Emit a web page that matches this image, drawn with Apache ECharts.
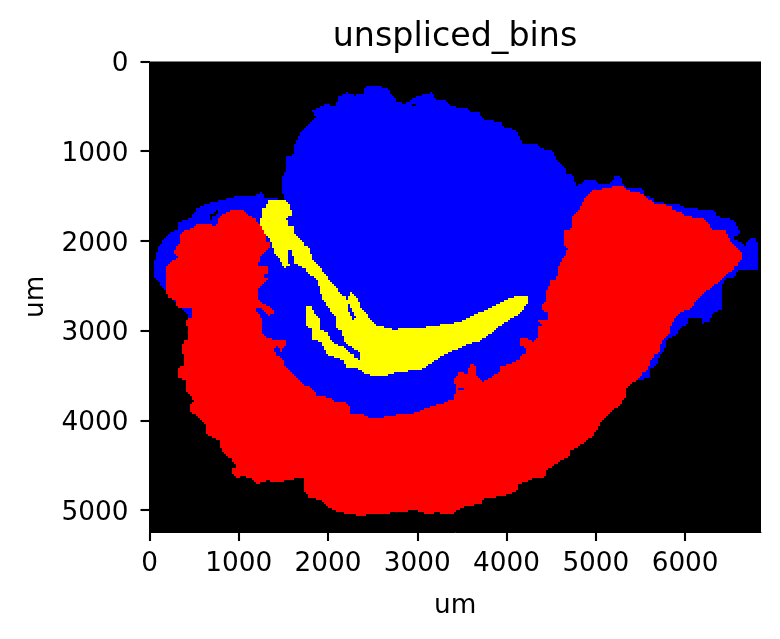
<!DOCTYPE html>
<html>
<head>
<meta charset="utf-8">
<title>unspliced_bins</title>
<script src="https://cdn.jsdelivr.net/npm/echarts@6/dist/echarts.min.js"></script>
<style>
  html, body { margin: 0; padding: 0; background: #fff; }
  #chart { width: 780px; height: 639px; }
</style>
</head>
<body>
<div id="chart"></div>
<script>
// outlines of the bin regions, [x um, y um]
const blueOutline = [
  [185,2550],[51,2401],[51,2234],[99,2066],[155,1973],[230,1899],[323,1862],[323,1795],[473,1731],[510,1646],
  [641,1583],[827,1538],[939,1508],[1145,1501],[1257,1445],[1283,1516],[1443,1534],[1537,1583],[1484,1434],[1484,1285],
  [1537,1173],[1537,1062],[1619,1025],[1619,913],[1686,783],[1817,653],[1873,615],[1824,541],[1947,474],[2096,504],
  [2104,392],[2208,344],[2283,374],[2403,355],[2414,288],[2470,262],[2656,299],[2768,448],[2862,474],[2993,385],
  [3142,348],[3216,437],[3310,429],[3366,485],[3459,522],[3553,522],[3590,560],[3683,571],[3739,653],[3926,671],
  [3963,734],[4094,764],[4180,913],[4344,920],[4374,969],[4523,1006],[4560,1099],[4654,1192],[4673,1255],[4729,1266],
  [4777,1378],[4878,1322],[4990,1315],[5027,1367],[5139,1359],[5214,1285],[5270,1285],[5315,1397],[5531,1426],[5550,1490],
  [5643,1538],[5662,1564],[5848,1590],[5923,1590],[5960,1620],[6091,1638],[6222,1657],[6315,1664],[6371,1731],[6483,1750],
  [6576,1798],[6584,1880],[6625,1899],[6576,1955],[6520,1973],[6595,2010],[6658,2048],[6718,1973],[6782,1973],[6827,2066],
  [6827,2319],[6651,2319],[6576,2345],[6558,2401],[6464,2420],[6408,2513],[6408,2773],[6334,2792],[6278,2903],[6203,2922],
  [6184,2855],[6035,2866],[6017,2941],[5867,3071],[5785,3108],[5774,3220],[5699,3331],[5680,3398],[5606,3424],[5606,3525],
  [5550,3536],[5494,3547],[4000,4300],[2500,4300],[1000,3500],[600,3000]
];
const redOutline = [
  [185,2550],[185,2289],[230,2226],[323,2178],[267,2122],[334,2010],[334,1917],[454,1862],[510,1824],[659,1806],
  [697,1832],[760,1806],[760,1739],[846,1676],[1014,1646],[1107,1713],[1182,1769],[1238,1832],[1313,1899],[1313,2010],
  [1350,2029],[1342,2085],[1238,2178],[1231,2234],[1219,2271],[1320,2289],[1320,2364],[1275,2401],[1320,2420],[1313,2468],
  [1208,2531],[1208,2624],[1238,2691],[1369,2755],[1395,2818],[1331,2840],[1275,2766],[1200,2729],[1200,2792],[1245,2848],
  [1268,3034],[1313,3089],[1518,3108],[1529,3164],[1481,3238],[1443,3182],[1380,3190],[1425,3275],[1499,3350],[1518,3424],
  [1630,3517],[1723,3610],[1798,3629],[1873,3722],[2022,3748],[2059,3796],[2171,3796],[2238,3852],[2238,3926],[2376,3934],
  [2470,3975],[2694,3956],[2806,3926],[2936,3919],[3104,3859],[3272,3807],[3403,3759],[3433,3647],[3411,3536],[3459,3461],
  [3553,3480],[3590,3376],[3646,3387],[3665,3499],[3721,3573],[3851,3499],[3926,3461],[3933,3398],[4075,3350],[4225,3238],
  [4206,3182],[4142,3175],[4142,3089],[4225,3089],[4299,3127],[4355,3052],[4344,2978],[4393,2922],[4355,2892],[4467,2866],
  [4460,2803],[4400,2755],[4400,2699],[4441,2680],[4449,2542],[4493,2446],[4560,2420],[4579,2271],[4654,2159],[4680,2085],
  [4643,2029],[4654,1880],[4729,1862],[4740,1713],[4829,1638],[4840,1564],[4953,1441],[5083,1415],[5195,1389],[5288,1389],
  [5382,1445],[5494,1471],[5643,1583],[5848,1609],[5867,1664],[5960,1676],[5998,1731],[6203,1739],[6296,1873],[6445,1888],
  [6502,2010],[6632,2141],[6632,2215],[6558,2308],[6464,2382],[6371,2475],[6240,2569],[6147,2643],[6072,2755],[5960,2792],
  [5848,2922],[5830,3034],[5736,3127],[5718,3238],[5624,3314],[5606,3387],[5494,3536],[5337,3647],[5344,3722],[5270,3833],
  [5158,3926],[5064,4019],[4990,4150],[4859,4261],[4728,4336],[4691,4410],[4523,4503],[4441,4577],[4430,4641],[4344,4633],
  [4131,4726],[4113,4801],[3945,4849],[3758,4875],[3721,4931],[3515,4968],[3422,5024],[3384,5050],[3216,5024],[3123,5050],
  [2993,4998],[2694,5035],[2358,5061],[2134,5024],[2022,4968],[1929,4894],[1798,4856],[1731,4782],[1723,4641],[1630,4652],
  [1443,4689],[1331,4670],[1219,4708],[1145,4652],[1051,4615],[995,4641],[921,4596],[921,4540],[977,4503],[883,4391],
  [801,4317],[790,4224],[641,4150],[622,4038],[547,3956],[454,3908],[454,3815],[491,3778],[473,3722],[405,3666],
  [405,3554],[323,3510],[312,3413],[390,3376],[390,3275],[361,3220],[379,3115],[428,3089],[417,2885],[484,2840],
  [484,2743],[312,2736],[297,2654],[223,2643]
];
const yellowOutline = [
  [1331,1538],[1518,1553],[1574,1590],[1593,1713],[1537,1750],[1544,1825],[1619,1843],[1630,1936],[1723,2029],[1798,2096],
  [1828,2215],[1917,2308],[1992,2420],[2104,2550],[2153,2606],[2209,2662],[2257,2580],[2313,2617],[2377,2773],[2537,2941],
  [2750,2996],[2825,2967],[2955,2978],[3291,2929],[3366,2922],[3534,2877],[3665,2810],[3795,2755],[3907,2699],[4000,2654],
  [4094,2617],[4225,2617],[4243,2699],[4131,2829],[3963,2922],[3851,3015],[3739,3089],[3702,3127],[3590,3145],[3478,3201],
  [3366,3238],[3216,3331],[3086,3424],[2955,3443],[2750,3473],[2589,3517],
  [2414,3473],[2339,3424],[2209,3406],[2171,3331],[1985,3257],[1929,3127],[1817,3089],[1817,2978],[1753,2941],[1761,2736],
  [1798,2717],[1854,2829],[1917,2903],[1917,2996],[1977,3015],[2059,3145],[2153,3182],[2246,3257],[2339,3331],[2358,3331],
  [2358,3238],[2190,3127],[2153,2996],[2078,2967],[2078,2847],[2003,2717],[1929,2643],[1891,2438],[1742,2308],[1611,2234],
  [1604,2104],[1555,2096],[1544,2215],[1581,2282],[1507,2297],[1462,2197],[1406,2141],[1357,1992],[1305,1918],[1238,1825],
  [1257,1665]
];
const blueHoleInYellow = [[2216,2710],[2257,2717],[2253,2755],[2313,2859],[2283,2874],[2231,2766]];
const blueSpotInRed = [[3448,3629],[3523,3629],[3523,3659],[3448,3659]];
const blackHoleLeft = [[670,1724],[734,1657],[782,1676],[723,1731],[697,1757]];
const blackHoleTop = [[2947,478],[2993,478],[2993,504],[2947,504]];

const xTicks = [0, 1000, 2000, 3000, 4000, 5000, 6000];
const yTicks = [0, 1000, 2000, 3000, 4000, 5000];

// painted in this order, later ones on top
const layers = [
  { outline: blueOutline, color: '#0000ff' },
  { outline: redOutline, color: '#ff0000' },
  { outline: yellowOutline, color: '#ffff00' },
  { outline: blueHoleInYellow, color: '#0000ff' },
  { outline: blueSpotInRed, color: '#0000ff' },
  { outline: blackHoleLeft, color: '#000000' },
  { outline: blackHoleTop, color: '#000000' }
];

// the bins are about 2px wide, so walk each edge in 2px stairs
const BIN_PX = 2;
const snap = v => Math.round(v / BIN_PX) * BIN_PX;
const toStairs = (pts) => {
  const out = [];
  pts.forEach((p, i) => {
    const q = pts[(i + 1) % pts.length];
    const n = Math.max(1, Math.ceil(Math.max(Math.abs(q[0] - p[0]), Math.abs(q[1] - p[1])) / BIN_PX));
    for (let k = 0; k < n; k++) {
      const x0 = snap(p[0] + (q[0] - p[0]) * k / n);
      const y0 = snap(p[1] + (q[1] - p[1]) * k / n);
      const x1 = snap(p[0] + (q[0] - p[0]) * (k + 1) / n);
      out.push([x0, y0], [x1, y0]);
    }
  });
  return out;
};

const regionSeries = (layer) => ({
  type: 'custom',
  silent: true,
  clip: true,
  coordinateSystem: 'cartesian2d',
  data: layer.outline,
  renderItem: (params, api) => {
    if (params.dataIndex !== 0) return null;
    return {
      type: 'polygon',
      shape: { points: toStairs(layer.outline.map(p => api.coord(p))) },
      style: { fill: layer.color }
    };
  }
});

const tickFont = { fontFamily: 'DejaVu Sans', fontSize: 26.3, color: '#000' };
const axisLook = (ticks, label) => ({
  axisLine: { show: true, onZero: false, lineStyle: { color: '#000', width: 1 } },
  axisTick: { show: true, length: 9, customValues: ticks, lineStyle: { color: '#000', width: 2.1 } },
  axisLabel: Object.assign({ customValues: ticks, formatter: v => String(v) }, tickFont, label),
  splitLine: { show: false }
});

const option = {
  animation: false,
  backgroundColor: '#fff',
  title: {
    text: 'unspliced_bins',
    left: 450, top: 32, textAlign: 'center', textVerticalAlign: 'middle',
    textStyle: { fontFamily: 'DejaVu Sans', fontSize: 33.3, fontWeight: 'normal', color: '#000' }
  },
  grid: {
    left: 149.5, top: 61.5, width: 611.5, height: 470.5,
    show: true, backgroundColor: '#000', borderColor: '#000', borderWidth: 0
  },
  xAxis: Object.assign({
    type: 'value', min: 0, max: 6850, position: 'bottom',
    name: 'um', nameLocation: 'middle', nameGap: 61,
    nameTextStyle: tickFont
  }, axisLook(xTicks, { margin: 19 })),
  yAxis: Object.assign({
    type: 'value', min: 0, max: 5245, inverse: true, position: 'left',
    name: 'um', nameLocation: 'middle', nameGap: 100, nameRotate: 90,
    nameTextStyle: tickFont
  }, axisLook(yTicks, { margin: 21, verticalAlign: 'top', lineHeight: 6 })),
  series: layers.map(regionSeries)
};

const myChart = echarts.init(document.getElementById('chart'), null, { renderer: 'canvas' });
myChart.setOption(option);
</script>
</body>
</html>
